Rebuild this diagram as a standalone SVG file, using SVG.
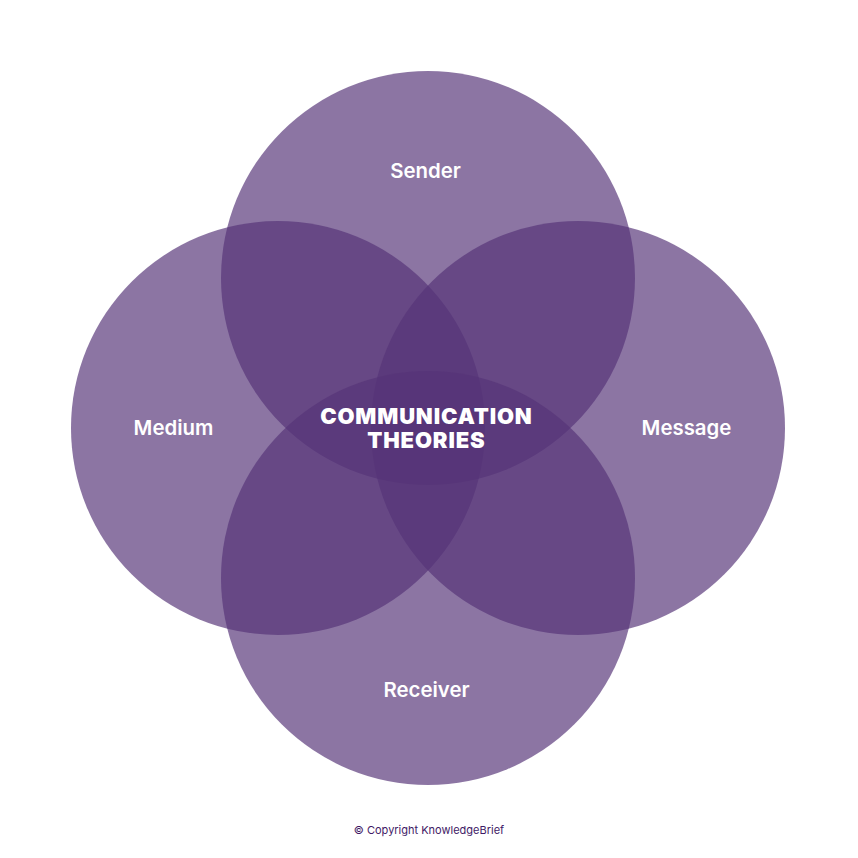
<svg xmlns="http://www.w3.org/2000/svg" width="858" height="858" viewBox="0 0 858 858">
<style>
circle{fill:#553377;fill-opacity:.68}
.l{font-family:"Inter","Liberation Sans",sans-serif;font-weight:600;font-size:20.4px;fill:#fff;text-anchor:middle}
.t{font-family:"Inter","Liberation Sans",sans-serif;font-weight:900;font-size:22px;letter-spacing:.85px;fill:#fff;text-anchor:middle}
.c{font-family:"Inter","Liberation Sans",sans-serif;font-size:11px;fill:#3f1a66;text-anchor:middle}
</style>
<rect width="858" height="858" fill="#fff"/>
<g id="sender"><circle cx="428" cy="278" r="207"/><text class="l" x="425.500" y="178">Sender</text></g>
<g id="medium"><circle cx="278" cy="428" r="207"/><text class="l" x="173.500" y="435">Medium</text></g>
<g id="message"><circle cx="578" cy="428" r="207"/><text class="l" x="686.500" y="435">Message</text></g>
<g id="receiver"><circle cx="428" cy="578" r="207"/><text class="l" x="426.500" y="697">Receiver</text></g>
<g id="center"><text class="t" x="426.400" y="424">COMMUNICATION</text><text class="t" x="426.400" y="448">THEORIES</text></g>
<text class="c" x="429" y="834">© Copyright KnowledgeBrief</text>
<g id="connectors"/>
</svg>
